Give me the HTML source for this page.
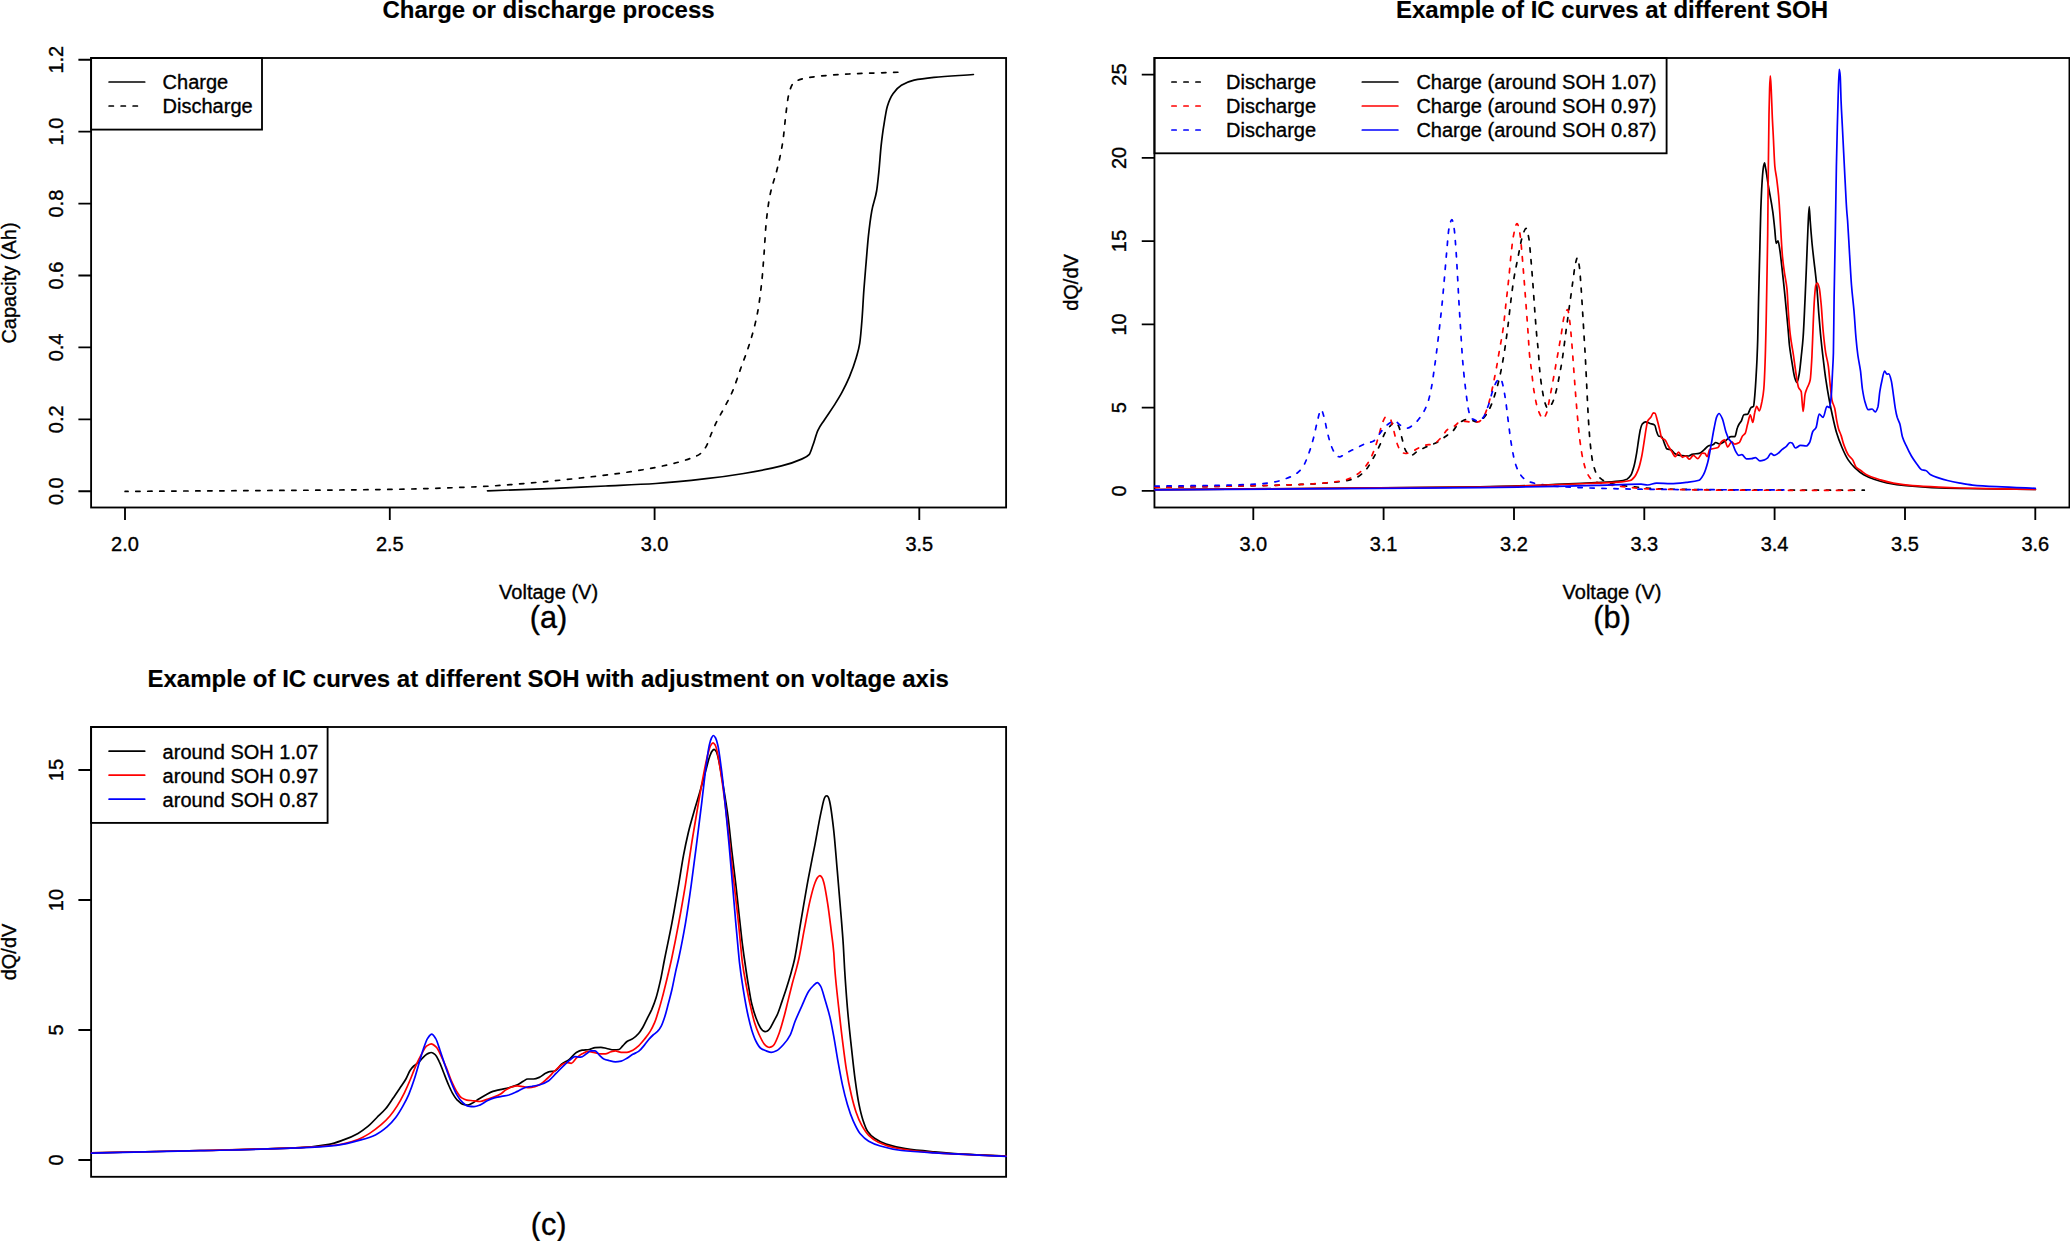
<!DOCTYPE html>
<html lang="en"><head><meta charset="utf-8"><title>IC curves</title>
<style>html,body{margin:0;padding:0;background:#fff}body{width:2070px;height:1241px;overflow:hidden}svg{display:block}text{font-family:"Liberation Sans",sans-serif;fill:#000;stroke:#000;stroke-width:.35px}.t{font-size:24px;font-weight:bold;text-anchor:middle;stroke-width:.15px}.n{font-size:20px}.m{font-size:20px;text-anchor:middle}.s{font-size:30.7px;text-anchor:middle}.l{fill:none;stroke-width:1.7;stroke-linejoin:round;stroke-linecap:round}.d{stroke-dasharray:4.3 7.7}.k{stroke:#000}.r{stroke:#f00}.b{stroke:#00f}.ax{fill:none;stroke:#000;stroke-width:1.85;stroke-linecap:square}.tk{stroke-linecap:butt}</style></head><body>
<svg width="2070" height="1241" viewBox="0 0 2070 1241">
<rect width="2070" height="1241" fill="#fff"/>
<g id="panel-a">
<text class="t" x="548.6" y="18.2">Charge or discharge process</text>
<rect class="ax" x="91.1" y="58.0" width="915.0" height="449.5"/>
<path class="ax tk" d="M125.0,507.5v12.6M389.8,507.5v12.6M654.6,507.5v12.6M919.3,507.5v12.6"/>
<text class="m" x="125.0" y="550.6">2.0</text>
<text class="m" x="389.8" y="550.6">2.5</text>
<text class="m" x="654.6" y="550.6">3.0</text>
<text class="m" x="919.3" y="550.6">3.5</text>
<path class="ax tk" d="M91.1,491.2h-12.7M91.1,419.3h-12.7M91.1,347.4h-12.7M91.1,275.5h-12.7M91.1,203.6h-12.7M91.1,131.6h-12.7M91.1,59.7h-12.7"/>
<text class="m" transform="translate(62.7,491.2) rotate(-90)">0.0</text>
<text class="m" transform="translate(62.7,419.3) rotate(-90)">0.2</text>
<text class="m" transform="translate(62.7,347.4) rotate(-90)">0.4</text>
<text class="m" transform="translate(62.7,275.5) rotate(-90)">0.6</text>
<text class="m" transform="translate(62.7,203.6) rotate(-90)">0.8</text>
<text class="m" transform="translate(62.7,131.6) rotate(-90)">1.0</text>
<text class="m" transform="translate(62.7,59.7) rotate(-90)">1.2</text>
<text class="m" transform="translate(15.5,283) rotate(-90)">Capacity (Ah)</text>
<text class="m" x="548.6" y="598.9">Voltage (V)</text>
<path class="l k" d="M487.5,490.8C510.1,490.0 532.8,489.2 555.4,488.3C572.1,487.6 588.9,486.8 605.6,486.0C622.4,485.2 639.1,484.6 655.9,483.5C672.6,482.4 689.4,480.6 706.1,478.7C718.7,477.3 731.2,475.6 743.8,473.5C756.4,471.4 768.9,469.2 781.5,465.9C788.2,464.2 794.9,462.1 801.6,459.1C804.1,458.0 806.6,457.2 809.1,454.6C810.4,453.3 811.6,448.7 812.9,445.3C814.6,440.8 816.2,433.8 817.9,430.3C820.0,425.9 822.1,423.5 824.2,420.2C827.6,415.0 830.9,410.4 834.3,405.1C836.8,401.1 839.3,397.2 841.8,392.6C844.3,388.0 846.8,383.1 849.3,377.2C851.6,371.6 854.0,365.5 856.3,357.5C857.4,353.6 858.6,350.3 859.7,343.4C860.4,338.9 861.2,329.9 861.9,320.8C862.6,312.5 863.2,299.0 863.9,289.8C864.7,279.3 865.4,270.7 866.2,261.6C866.9,252.9 867.7,243.0 868.4,236.2C869.5,225.8 870.7,216.9 871.8,210.8C873.4,202.2 875.0,200.3 876.6,191.0C877.4,186.5 878.1,178.8 878.9,171.3C879.6,164.1 880.4,152.6 881.1,145.9C882.0,137.9 882.8,131.8 883.7,126.2C884.9,118.5 886.1,110.3 887.3,106.4C889.2,100.2 891.1,96.4 893.0,93.7C895.8,89.7 898.6,87.0 901.4,85.3C905.6,82.8 909.9,81.1 914.1,80.2C920.7,78.8 927.3,78.1 933.9,77.4C947.1,76.1 960.2,75.5 973.4,74.5"/>
<path class="l k d" stroke-dashoffset="1.35" d="M125.1,491.4C166.7,491.1 208.4,490.9 250.0,490.6C296.6,490.3 343.1,490.1 389.7,489.4C420.6,489.0 451.6,487.9 482.5,486.5C498.4,485.8 514.4,484.3 530.3,483.0C547.0,481.6 563.8,479.9 580.5,478.0C597.3,476.1 614.0,474.2 630.8,471.7C643.3,469.8 655.9,467.6 668.4,464.7C675.1,463.2 681.8,461.4 688.5,459.1C692.3,457.8 696.0,456.6 699.8,454.1C701.9,452.7 704.0,450.0 706.1,446.6C707.8,443.8 709.5,438.0 711.2,434.0C712.9,430.1 714.5,426.1 716.2,422.7C719.1,416.7 722.1,412.1 725.0,406.4C727.5,401.6 730.0,397.1 732.5,391.3C735.2,385.0 737.9,376.4 740.6,368.8C743.9,359.5 747.2,351.7 750.5,340.6C752.9,332.7 755.2,324.9 757.6,312.3C759.0,304.9 760.4,294.5 761.8,281.3C762.6,274.1 763.3,263.4 764.1,253.1C764.7,244.6 765.4,231.5 766.0,224.9C767.2,212.0 768.5,203.1 769.7,196.7C772.2,183.5 774.8,179.3 777.3,168.5C779.2,160.4 781.1,152.9 783.0,140.3C783.9,134.1 784.9,122.3 785.8,114.9C786.7,107.5 787.7,98.8 788.6,95.1C790.0,89.5 791.4,85.3 792.8,83.9C795.6,81.0 798.5,79.9 801.3,79.1C807.9,77.4 814.4,76.7 821.0,76.0C830.4,75.1 839.8,74.5 849.2,74.0C867.9,73.1 886.5,72.7 905.2,72.0"/>
<rect class="ax" x="91.1" y="58.0" width="170.9" height="71.6" fill="#fff"/>
<path class="l k" d="M109.1,82h35.6"/>
<path class="l k d" d="M109.1,106h34"/>
<text class="n" x="162.6" y="89.1">Charge</text><text class="n" x="162.6" y="113.1">Discharge</text>
<text class="s" x="548.6" y="628.2">(a)</text>
</g>
<g id="panel-b">
<text class="t" x="1612" y="18.2">Example of IC curves at different SOH</text>
<rect class="ax" x="1154.45" y="58.0" width="915.0" height="449.5"/>
<path class="ax tk" d="M1253.3,507.5v12.6M1383.6,507.5v12.6M1514.0,507.5v12.6M1644.3,507.5v12.6M1774.6,507.5v12.6M1905.0,507.5v12.6M2035.3,507.5v12.6"/>
<text class="m" x="1253.3" y="550.6">3.0</text>
<text class="m" x="1383.6" y="550.6">3.1</text>
<text class="m" x="1514.0" y="550.6">3.2</text>
<text class="m" x="1644.3" y="550.6">3.3</text>
<text class="m" x="1774.6" y="550.6">3.4</text>
<text class="m" x="1905.0" y="550.6">3.5</text>
<text class="m" x="2035.3" y="550.6">3.6</text>
<path class="ax tk" d="M1154.45,490.9h-12.7M1154.45,407.6h-12.7M1154.45,324.4h-12.7M1154.45,241.1h-12.7M1154.45,157.9h-12.7M1154.45,74.6h-12.7"/>
<text class="m" transform="translate(1126.0,490.9) rotate(-90)">0</text>
<text class="m" transform="translate(1126.0,407.6) rotate(-90)">5</text>
<text class="m" transform="translate(1126.0,324.4) rotate(-90)">10</text>
<text class="m" transform="translate(1126.0,241.1) rotate(-90)">15</text>
<text class="m" transform="translate(1126.0,157.9) rotate(-90)">20</text>
<text class="m" transform="translate(1126.0,74.6) rotate(-90)">25</text>
<text class="m" transform="translate(1077.7,282.5) rotate(-90)">dQ/dV</text>
<text class="m" x="1612.0" y="598.9">Voltage (V)</text>
<path class="l k d" d="M1155.0,487.3C1187.2,486.8 1219.3,486.5 1251.5,485.8C1268.4,485.5 1285.3,485.1 1302.2,484.4C1310.6,484.1 1319.1,483.6 1327.5,482.9C1333.2,482.5 1338.8,481.9 1344.5,481.0C1348.4,480.4 1352.4,479.4 1356.3,477.7C1359.7,476.3 1363.0,473.0 1366.4,469.2C1368.7,466.6 1370.9,462.2 1373.2,458.2C1375.5,454.2 1377.7,449.6 1380.0,444.7C1381.7,441.1 1383.3,435.7 1385.0,432.9C1386.7,430.0 1388.4,427.8 1390.1,426.1C1391.8,424.4 1393.5,421.9 1395.2,421.9C1396.3,421.9 1397.5,424.0 1398.6,426.1C1399.7,428.1 1400.8,434.0 1401.9,437.9C1403.0,441.9 1404.2,447.8 1405.3,449.8C1407.0,452.9 1408.7,455.7 1410.4,455.7C1412.7,455.7 1414.9,452.8 1417.2,451.5C1420.6,449.6 1423.9,447.9 1427.3,446.4C1430.7,444.9 1434.0,444.0 1437.4,442.2C1440.2,440.7 1443.1,438.2 1445.9,436.2C1448.2,434.6 1450.4,433.3 1452.7,431.2C1454.9,429.1 1457.2,424.1 1459.4,422.7C1462.2,420.9 1465.1,419.3 1467.9,419.3C1471.3,419.3 1474.6,421.9 1478.0,421.9C1480.8,421.9 1483.7,417.9 1486.5,414.3C1488.2,412.1 1489.9,408.2 1491.6,404.1C1493.3,400.1 1494.9,394.7 1496.6,388.9C1497.7,385.0 1498.9,380.5 1500.0,375.4C1501.3,369.7 1502.5,362.9 1503.8,355.3C1505.1,347.7 1506.3,338.7 1507.6,328.9C1508.7,320.4 1509.8,309.2 1510.9,300.5C1512.0,292.1 1513.0,283.7 1514.1,277.3C1515.4,269.7 1516.6,264.4 1517.9,258.0C1519.2,251.5 1520.5,242.9 1521.8,238.7C1523.2,234.0 1524.7,228.4 1526.1,228.4C1527.0,228.4 1528.0,233.5 1528.9,238.7C1529.5,242.2 1530.2,251.0 1530.8,258.0C1531.5,265.4 1532.1,273.7 1532.8,282.5C1533.4,290.9 1534.1,301.0 1534.7,309.6C1535.3,318.2 1536.0,326.8 1536.6,334.1C1537.3,341.7 1537.9,346.1 1538.6,354.7C1538.8,357.7 1539.1,363.1 1539.3,365.8C1540.2,375.9 1541.0,382.3 1541.9,387.7C1543.0,394.3 1544.0,400.3 1545.1,403.2C1546.0,405.6 1546.8,408.3 1547.7,408.3C1549.2,408.3 1550.7,405.7 1552.2,403.2C1553.5,401.1 1554.7,396.3 1556.0,391.6C1557.1,387.5 1558.2,381.8 1559.3,376.1C1560.3,370.8 1561.4,365.2 1562.4,358.5C1563.7,350.1 1565.0,338.5 1566.3,328.9C1567.4,321.0 1568.4,313.4 1569.5,305.7C1570.6,298.0 1571.6,290.0 1572.7,282.5C1573.6,276.4 1574.4,268.3 1575.3,264.5C1576.0,261.5 1576.7,257.7 1577.4,257.7C1578.1,257.7 1578.7,262.5 1579.4,267.0C1580.0,270.9 1580.5,279.8 1581.1,287.7C1581.6,295.1 1582.2,304.7 1582.7,313.4C1583.2,321.0 1583.6,328.8 1584.1,336.6C1584.5,343.8 1585.0,350.5 1585.4,358.5C1585.9,368.4 1586.5,380.8 1587.0,391.6C1587.4,400.4 1587.9,410.2 1588.3,417.3C1588.9,427.6 1589.6,436.9 1590.2,443.1C1591.1,451.5 1591.9,458.6 1592.8,462.4C1594.1,468.1 1595.4,472.1 1596.7,474.1C1598.6,477.1 1600.6,478.8 1602.5,479.9C1606.8,482.3 1611.0,483.6 1615.3,484.4C1621.8,485.7 1628.2,486.3 1634.7,486.9C1643.3,487.7 1651.9,488.7 1660.5,488.9C1687.0,489.6 1713.5,489.8 1740.0,489.9C1781.4,490.1 1822.9,490.1 1864.3,490.2"/>
<path class="l r d" d="M1155.0,487.3C1187.2,486.8 1219.3,486.5 1251.5,485.8C1268.4,485.5 1285.3,485.1 1302.2,484.4C1310.6,484.1 1319.1,483.5 1327.5,482.7C1333.2,482.2 1338.8,481.5 1344.5,480.2C1347.9,479.4 1351.2,477.9 1354.6,476.0C1357.4,474.4 1360.3,472.1 1363.1,469.2C1365.3,466.9 1367.6,463.8 1369.8,459.9C1371.5,456.9 1373.2,452.7 1374.9,448.1C1376.3,444.3 1377.7,439.2 1379.1,434.5C1380.2,430.7 1381.4,425.3 1382.5,422.7C1383.6,420.1 1384.8,416.8 1385.9,416.8C1387.3,416.8 1388.7,417.5 1390.1,418.5C1391.2,419.3 1392.4,425.5 1393.5,429.5C1394.6,433.5 1395.8,439.9 1396.9,443.0C1398.3,446.8 1399.7,450.4 1401.1,451.5C1402.5,452.6 1403.9,453.5 1405.3,453.5C1408.1,453.5 1411.0,451.7 1413.8,450.6C1417.2,449.2 1420.5,446.3 1423.9,445.5C1427.3,444.6 1430.7,444.8 1434.1,443.8C1436.3,443.1 1438.6,440.2 1440.8,437.9C1443.1,435.6 1445.3,431.1 1447.6,429.5C1449.9,427.9 1452.1,427.5 1454.4,426.1C1456.6,424.8 1458.9,421.0 1461.1,421.0C1463.9,421.0 1466.8,421.9 1469.6,421.9C1472.4,421.9 1475.2,421.9 1478.0,421.9C1480.0,421.9 1482.0,418.9 1484.0,415.9C1485.7,413.4 1487.3,408.0 1489.0,402.4C1490.4,397.6 1491.9,390.5 1493.3,383.8C1494.4,378.6 1495.5,372.9 1496.6,366.9C1497.5,362.2 1498.3,356.8 1499.2,351.7C1500.5,344.1 1501.8,338.1 1503.1,328.9C1504.2,321.3 1505.2,310.0 1506.3,300.5C1507.2,292.8 1508.0,285.7 1508.9,277.3C1509.6,270.2 1510.4,260.7 1511.1,254.1C1511.9,247.2 1512.6,239.9 1513.4,236.1C1514.6,230.1 1515.8,223.5 1517.0,223.5C1518.0,223.5 1518.9,228.4 1519.9,233.5C1520.5,236.8 1521.2,244.8 1521.8,251.6C1522.4,258.4 1523.1,266.9 1523.7,274.8C1524.4,283.1 1525.0,291.7 1525.7,300.5C1526.3,308.9 1527.0,317.6 1527.6,326.3C1528.4,336.9 1529.1,351.4 1529.9,358.5C1530.2,361.6 1530.6,363.3 1530.9,365.8C1532.0,373.9 1533.0,385.3 1534.1,391.6C1535.4,399.3 1536.7,406.3 1538.0,409.6C1539.7,414.1 1541.5,418.6 1543.2,418.6C1544.3,418.6 1545.3,416.0 1546.4,413.5C1547.7,410.5 1548.9,401.7 1550.2,395.4C1551.5,388.9 1552.8,381.9 1554.1,374.8C1555.2,369.0 1556.2,362.8 1557.3,356.8C1558.6,349.7 1559.8,342.7 1561.1,335.3C1562.2,329.1 1563.2,319.1 1564.3,316.0C1565.4,312.8 1566.5,309.6 1567.6,309.6C1568.4,309.6 1569.1,316.8 1569.9,322.5C1570.5,327.0 1571.1,334.7 1571.7,341.8C1572.3,348.9 1572.9,357.7 1573.5,365.8C1574.1,374.3 1574.8,383.5 1575.4,391.6C1576.0,399.7 1576.7,407.8 1577.3,414.8C1578.2,424.3 1579.0,433.9 1579.9,440.5C1581.0,448.6 1582.0,455.3 1583.1,459.9C1584.4,465.5 1585.7,470.2 1587.0,472.8C1588.7,476.2 1590.4,478.8 1592.1,479.9C1595.6,482.0 1599.0,483.0 1602.5,483.7C1610.2,485.3 1618.0,486.1 1625.7,486.9C1633.0,487.7 1640.3,488.7 1647.6,488.9C1678.4,489.8 1709.2,490.1 1740.0,490.2C1778.2,490.3 1816.5,490.3 1854.7,490.3"/>
<path class="l b d" d="M1155.0,486.1C1170.2,485.9 1185.5,485.8 1200.7,485.6C1217.6,485.3 1234.6,485.1 1251.5,484.4C1259.4,484.1 1267.2,483.2 1275.1,481.9C1278.5,481.3 1281.9,480.0 1285.3,478.8C1288.7,477.6 1292.0,476.4 1295.4,474.3C1297.9,472.7 1300.5,470.3 1303.0,466.7C1305.0,463.9 1306.9,458.5 1308.9,453.1C1310.6,448.5 1312.3,442.7 1314.0,436.2C1315.1,431.8 1316.3,425.2 1317.4,421.0C1318.6,416.5 1319.9,409.5 1321.1,409.5C1322.1,409.5 1323.2,414.2 1324.2,417.6C1325.3,421.3 1326.4,428.6 1327.5,432.9C1328.9,438.5 1330.4,443.8 1331.8,447.2C1333.2,450.5 1334.6,453.5 1336.0,454.8C1337.1,455.8 1338.3,456.9 1339.4,456.9C1341.6,456.9 1343.9,454.3 1346.1,453.1C1349.5,451.3 1352.9,449.7 1356.3,448.1C1359.7,446.5 1363.0,444.5 1366.4,443.3C1368.7,442.5 1370.9,442.4 1373.2,441.3C1374.9,440.5 1376.6,437.5 1378.3,435.4C1380.3,433.0 1382.2,429.8 1384.2,427.8C1386.2,425.8 1388.1,423.9 1390.1,422.7C1391.5,421.9 1392.9,420.7 1394.3,420.7C1396.3,420.7 1398.3,424.1 1400.3,425.2C1402.5,426.4 1404.8,428.1 1407.0,428.1C1409.3,428.1 1411.5,426.1 1413.8,424.4C1416.0,422.8 1418.3,420.0 1420.5,416.8C1422.8,413.6 1425.0,410.1 1427.3,404.1C1428.7,400.4 1430.1,394.3 1431.5,387.2C1432.4,382.8 1433.2,376.3 1434.1,370.3C1434.9,364.5 1435.8,358.3 1436.6,351.7C1437.3,346.2 1438.0,340.1 1438.7,334.1C1439.8,324.9 1440.8,316.2 1441.9,305.7C1442.8,297.2 1443.6,287.1 1444.5,277.3C1445.2,269.0 1446.0,259.5 1446.7,251.6C1447.5,243.3 1448.2,232.1 1449.0,228.4C1450.0,223.8 1450.9,219.6 1451.9,219.6C1452.6,219.6 1453.4,224.0 1454.1,228.4C1454.8,232.4 1455.4,242.3 1456.1,251.6C1456.6,258.6 1457.1,268.4 1457.6,277.3C1458.1,285.6 1458.5,295.1 1459.0,303.1C1459.5,312.3 1460.1,320.4 1460.6,328.9C1461.2,338.9 1461.9,350.3 1462.5,358.5C1462.9,363.7 1463.3,368.0 1463.7,372.0C1464.5,380.3 1465.4,387.6 1466.2,394.0C1467.0,400.4 1467.9,407.5 1468.7,410.9C1469.6,414.4 1470.4,417.9 1471.3,418.5C1472.2,419.1 1473.1,419.1 1474.0,419.5C1475.3,420.1 1476.7,421.4 1478.0,421.4C1479.7,421.4 1481.4,419.5 1483.1,417.6C1484.8,415.7 1486.5,410.4 1488.2,405.8C1489.8,401.5 1491.3,394.6 1492.9,390.3C1494.2,386.8 1495.5,382.7 1496.8,381.2C1498.0,379.8 1499.2,378.4 1500.4,378.4C1501.3,378.4 1502.3,382.8 1503.2,386.4C1504.1,389.8 1504.9,396.0 1505.8,401.9C1506.7,407.8 1507.5,415.9 1508.4,422.5C1509.5,430.6 1510.5,439.6 1511.6,445.7C1512.9,453.0 1514.1,459.8 1515.4,463.7C1516.9,468.4 1518.5,471.9 1520.0,474.1C1522.1,477.1 1524.3,479.4 1526.4,480.5C1529.8,482.2 1533.3,483.1 1536.7,483.7C1543.6,485.0 1550.4,485.8 1557.3,486.3C1570.2,487.3 1583.1,487.8 1596.0,488.2C1613.2,488.7 1630.4,489.1 1647.6,489.3C1678.4,489.6 1709.2,489.7 1740.0,489.8C1754.6,489.8 1769.2,489.9 1783.8,489.9"/>
<path class="l k" d="M1155.0,489.6C1203.3,489.2 1251.7,488.9 1300.0,488.5C1360.0,488.0 1420.0,487.8 1480.0,486.9C1501.5,486.6 1523.0,485.8 1544.5,485.0C1561.7,484.4 1578.8,483.6 1596.0,482.7C1603.7,482.3 1611.5,482.1 1619.2,481.2C1621.8,480.9 1624.3,480.3 1626.9,479.2C1628.2,478.6 1629.5,477.2 1630.8,475.3C1631.9,473.7 1632.9,470.2 1634.0,466.3C1634.9,463.2 1635.7,458.4 1636.6,453.4C1637.2,449.7 1637.9,444.5 1638.5,440.5C1639.2,436.3 1639.8,431.3 1640.5,428.9C1641.1,426.6 1641.8,424.5 1642.4,423.8C1643.5,422.7 1644.5,421.9 1645.6,421.9C1647.1,421.9 1648.6,423.0 1650.1,423.5C1651.6,424.0 1653.2,424.0 1654.7,425.1C1655.3,425.5 1656.0,429.7 1656.6,431.5C1657.2,433.3 1657.9,435.7 1658.5,436.0C1659.6,436.5 1660.6,436.3 1661.7,436.7C1662.6,437.1 1663.4,441.1 1664.3,443.1C1665.2,445.1 1666.0,448.6 1666.9,448.9C1668.2,449.4 1669.5,449.2 1670.8,449.6C1672.1,450.0 1673.3,452.7 1674.6,453.4C1676.3,454.4 1678.1,455.2 1679.8,455.4C1682.8,455.8 1685.8,456.0 1688.8,456.0C1690.1,456.0 1691.4,454.3 1692.7,454.1C1694.8,453.7 1697.0,453.8 1699.1,453.4C1700.8,453.1 1702.6,451.0 1704.3,449.6C1705.6,448.5 1706.9,446.6 1708.2,446.0C1709.9,445.3 1711.6,445.4 1713.3,444.6C1714.1,444.2 1714.9,442.5 1715.7,442.5C1717.0,442.5 1718.2,443.9 1719.5,443.9C1721.6,443.9 1723.7,441.8 1725.8,440.5C1727.5,439.4 1729.2,436.7 1730.9,436.7C1732.2,436.7 1733.5,436.7 1734.8,436.7C1735.7,436.7 1736.5,429.9 1737.4,427.7C1738.0,426.1 1738.7,424.8 1739.3,423.8C1739.9,422.8 1740.6,422.3 1741.2,421.2C1742.1,419.7 1742.9,415.1 1743.8,414.8C1745.1,414.3 1746.4,414.5 1747.7,414.1C1748.8,413.7 1749.8,408.5 1750.9,407.7C1751.8,407.0 1752.6,407.3 1753.5,406.4C1753.9,405.9 1754.4,400.1 1754.8,395.4C1755.2,390.7 1755.7,383.3 1756.1,376.1C1756.4,371.1 1756.7,366.0 1757.0,359.3C1757.2,354.1 1757.5,348.0 1757.7,340.0C1758.0,329.7 1758.3,311.0 1758.6,298.1C1759.0,279.5 1759.5,264.0 1759.9,246.6C1760.2,234.6 1760.5,218.8 1760.8,210.0C1761.2,199.3 1761.5,191.3 1761.9,185.3C1762.3,178.2 1762.8,171.5 1763.2,168.6C1763.6,165.7 1764.1,162.8 1764.5,162.8C1764.9,162.8 1765.3,166.4 1765.7,168.6C1766.6,173.3 1767.4,180.0 1768.3,185.3C1769.8,194.6 1771.3,200.8 1772.8,211.8C1773.5,216.7 1774.1,223.3 1774.8,229.8C1775.2,234.0 1775.7,243.3 1776.1,243.3C1776.7,243.3 1777.4,240.8 1778.0,240.8C1778.6,240.8 1779.3,246.4 1779.9,250.4C1780.6,254.6 1781.2,261.3 1781.9,267.2C1782.7,274.5 1783.6,282.2 1784.4,290.4C1785.1,296.9 1785.7,304.0 1786.4,311.0C1787.0,317.7 1787.7,324.3 1788.3,331.6C1788.7,335.8 1789.0,341.7 1789.4,345.0C1790.1,351.3 1790.8,354.9 1791.5,359.3C1792.6,365.9 1793.6,374.0 1794.7,377.4C1795.4,379.8 1796.2,382.5 1796.9,382.5C1797.7,382.5 1798.5,377.8 1799.3,373.5C1799.9,370.1 1800.6,363.0 1801.2,357.0C1801.8,351.0 1802.5,346.0 1803.1,337.5C1803.8,328.5 1804.4,312.6 1805.1,298.1C1805.6,286.5 1806.2,272.6 1806.7,259.5C1807.1,248.9 1807.6,236.0 1808.0,227.2C1808.4,219.1 1808.8,206.6 1809.2,206.6C1809.5,206.6 1809.9,216.4 1810.2,220.8C1810.8,229.2 1811.5,237.4 1812.1,244.0C1813.0,253.0 1813.8,259.4 1814.7,267.2C1815.4,273.2 1816.0,278.0 1816.7,285.2C1817.3,292.1 1818.0,302.9 1818.6,311.0C1819.2,319.1 1819.9,327.3 1820.5,334.0C1821.4,343.1 1822.2,350.6 1823.1,358.0C1824.0,365.4 1824.8,372.7 1825.7,378.7C1826.8,386.1 1827.8,392.2 1828.9,398.0C1830.2,405.1 1831.5,411.5 1832.8,417.3C1834.1,423.0 1835.3,428.6 1836.6,432.8C1838.3,438.5 1840.1,443.0 1841.8,447.0C1843.9,452.0 1846.1,456.7 1848.2,459.9C1850.4,463.1 1852.5,465.5 1854.7,467.6C1857.7,470.5 1860.7,473.0 1863.7,474.7C1867.1,476.6 1870.6,478.0 1874.0,479.2C1878.3,480.7 1882.6,481.9 1886.9,482.8C1893.3,484.1 1899.8,485.1 1906.2,485.7C1914.8,486.6 1923.4,487.2 1932.0,487.6C1941.3,488.0 1950.7,488.3 1960.0,488.5C1972.2,488.7 1984.5,488.8 1996.7,489.0C2009.6,489.2 2022.5,489.3 2035.4,489.5"/>
<path class="l r" d="M1155.0,489.7C1203.3,489.3 1251.7,489.0 1300.0,488.6C1360.0,488.1 1420.0,487.9 1480.0,487.0C1518.7,486.4 1557.3,484.7 1596.0,483.1C1604.6,482.7 1613.2,482.5 1621.8,481.8C1624.6,481.6 1627.4,481.3 1630.2,480.5C1631.7,480.1 1633.2,478.4 1634.7,476.6C1636.0,475.0 1637.2,472.3 1638.5,468.9C1639.6,465.9 1640.7,461.3 1641.8,456.0C1642.6,452.0 1643.5,445.8 1644.3,440.5C1645.0,436.3 1645.6,431.4 1646.3,427.7C1646.7,425.3 1647.2,422.1 1647.6,421.2C1648.7,418.9 1649.7,418.8 1650.8,417.3C1651.7,416.1 1652.5,412.8 1653.4,412.8C1653.9,412.8 1654.5,413.0 1655.0,413.2C1655.7,413.5 1656.5,417.4 1657.2,419.9C1658.1,422.9 1658.9,426.7 1659.8,430.2C1660.4,432.8 1661.1,437.3 1661.7,438.0C1662.8,439.2 1663.9,438.9 1665.0,439.9C1666.1,440.8 1667.1,443.9 1668.2,445.7C1669.5,447.9 1670.8,450.1 1672.1,452.1C1673.2,453.7 1674.2,456.7 1675.3,456.7C1676.4,456.7 1677.4,452.1 1678.5,452.1C1679.8,452.1 1681.1,457.3 1682.4,457.3C1683.5,457.3 1684.5,456.0 1685.6,456.0C1686.9,456.0 1688.2,459.2 1689.5,459.2C1690.8,459.2 1692.0,455.4 1693.3,455.4C1694.8,455.4 1696.3,458.6 1697.8,458.6C1699.3,458.6 1700.9,453.2 1702.4,453.2C1703.2,453.2 1704.1,453.3 1704.9,453.4C1705.7,453.5 1706.5,456.7 1707.3,456.7C1708.1,456.7 1708.8,450.0 1709.6,449.6C1712.4,448.1 1715.2,448.9 1718.0,447.6C1719.1,447.1 1720.2,442.8 1721.3,441.8C1722.4,440.9 1723.4,439.9 1724.5,439.9C1725.6,439.9 1726.6,447.0 1727.7,447.0C1729.0,447.0 1730.3,441.8 1731.6,441.8C1732.7,441.8 1733.7,444.1 1734.8,444.1C1736.3,444.1 1737.8,443.4 1739.3,442.5C1740.4,441.8 1741.4,437.4 1742.5,436.0C1743.4,434.9 1744.2,434.8 1745.1,433.5C1746.0,432.2 1746.8,426.9 1747.7,423.8C1748.6,420.7 1749.4,414.8 1750.3,414.8C1751.1,414.8 1752.0,422.5 1752.8,422.5C1753.5,422.5 1754.1,414.7 1754.8,412.2C1755.4,409.8 1756.1,406.4 1756.7,406.4C1757.6,406.4 1758.4,410.9 1759.3,410.9C1760.2,410.9 1761.0,405.9 1761.9,401.9C1762.5,398.9 1763.2,395.7 1763.8,389.0C1764.2,384.4 1764.7,373.8 1765.1,362.0C1765.5,352.1 1765.8,336.8 1766.2,320.0C1766.5,307.7 1766.7,290.4 1767.0,275.0C1767.2,261.6 1767.5,251.5 1767.7,233.7C1767.9,218.4 1768.1,188.2 1768.3,170.0C1768.5,148.7 1768.8,127.4 1769.0,114.5C1769.2,103.4 1769.4,93.9 1769.6,88.7C1769.8,82.6 1770.1,75.8 1770.3,75.8C1770.6,75.8 1770.9,83.2 1771.2,88.7C1771.5,94.8 1771.9,107.0 1772.2,114.5C1772.6,124.3 1773.1,131.6 1773.5,140.2C1773.9,148.8 1774.4,161.5 1774.8,166.0C1775.4,172.6 1776.1,174.0 1776.7,178.9C1777.3,183.8 1778.0,188.7 1778.6,195.7C1779.0,200.5 1779.5,207.4 1779.9,214.3C1780.3,221.2 1780.8,230.5 1781.2,237.5C1781.6,244.5 1782.1,252.3 1782.5,256.9C1783.1,263.7 1783.8,267.7 1784.4,272.3C1785.3,278.6 1786.1,280.6 1787.0,289.1C1787.4,293.4 1787.9,304.8 1788.3,311.0C1788.9,320.1 1789.6,328.7 1790.2,334.2C1791.3,343.8 1792.4,348.0 1793.5,355.5C1794.3,361.2 1795.2,368.3 1796.0,373.5C1796.9,378.9 1797.7,385.7 1798.6,387.7C1799.5,389.7 1800.3,389.2 1801.2,391.6C1801.8,393.3 1802.5,411.5 1803.1,411.5C1803.8,411.5 1804.4,397.1 1805.1,394.1C1805.7,391.2 1806.4,390.1 1807.0,388.3C1808.1,385.3 1809.1,385.0 1810.2,380.0C1810.8,377.3 1811.3,367.2 1811.9,357.0C1812.3,349.2 1812.8,333.6 1813.2,323.9C1813.6,314.2 1814.1,303.8 1814.5,298.1C1814.9,292.4 1815.4,286.3 1815.8,285.2C1816.3,283.9 1816.8,283.0 1817.3,283.0C1817.9,283.0 1818.6,285.4 1819.2,287.8C1819.9,290.4 1820.5,297.7 1821.2,304.6C1821.8,311.2 1822.5,323.6 1823.1,330.4C1824.0,339.7 1824.8,347.4 1825.7,352.9C1826.6,358.4 1827.4,359.9 1828.3,365.8C1828.9,370.1 1829.6,379.4 1830.2,385.1C1830.8,390.8 1831.5,397.8 1832.1,400.6C1833.0,404.5 1833.8,404.8 1834.7,408.3C1835.3,410.9 1836.0,416.6 1836.6,419.9C1837.3,423.4 1837.9,426.7 1838.6,428.9C1839.4,431.7 1840.3,432.9 1841.1,435.4C1842.0,438.0 1842.8,442.0 1843.7,444.4C1845.2,448.6 1846.7,452.4 1848.2,454.7C1849.7,457.0 1851.2,457.6 1852.7,459.9C1853.8,461.6 1854.9,465.7 1856.0,467.0C1857.7,468.9 1859.4,469.6 1861.1,470.8C1863.3,472.4 1865.4,474.2 1867.6,475.3C1871.9,477.4 1876.2,478.6 1880.5,479.9C1884.8,481.2 1889.0,482.3 1893.3,483.1C1899.8,484.3 1906.2,485.2 1912.7,485.7C1921.3,486.4 1929.9,486.8 1938.5,487.2C1945.7,487.5 1952.8,487.8 1960.0,488.0C1972.2,488.3 1984.5,488.6 1996.7,488.8C2009.6,489.1 2022.5,489.3 2035.4,489.5"/>
<path class="l b" d="M1155.0,489.8C1203.3,489.5 1251.7,489.2 1300.0,488.9C1360.0,488.5 1420.0,488.2 1480.0,487.6C1505.8,487.3 1531.5,486.8 1557.3,486.3C1570.2,486.0 1583.1,485.7 1596.0,485.4C1611.0,485.0 1626.1,484.1 1641.1,484.1C1643.3,484.1 1645.4,485.0 1647.6,485.0C1650.6,485.0 1653.6,483.1 1656.6,483.1C1661.3,483.1 1666.1,483.7 1670.8,483.7C1675.9,483.7 1681.1,483.0 1686.2,482.4C1690.5,481.9 1694.8,481.7 1699.1,480.2C1700.6,479.7 1702.0,477.2 1703.5,474.6C1704.9,472.1 1706.3,467.7 1707.7,462.5C1708.8,458.4 1709.9,451.6 1711.0,445.7C1712.1,440.0 1713.1,432.8 1714.2,427.7C1715.1,423.5 1715.9,418.6 1716.8,416.7C1717.5,415.1 1718.3,413.5 1719.0,413.5C1720.1,413.5 1721.3,416.3 1722.4,418.8C1723.5,421.3 1724.7,428.2 1725.8,431.5C1726.9,434.6 1727.9,437.6 1729.0,439.3C1730.1,441.0 1731.1,441.4 1732.2,443.1C1733.3,444.8 1734.3,449.0 1735.4,450.9C1736.5,452.8 1737.6,455.4 1738.7,455.4C1739.8,455.4 1740.8,454.7 1741.9,454.7C1743.4,454.7 1744.9,458.8 1746.4,458.8C1748.1,458.8 1749.9,458.7 1751.6,458.6C1752.9,458.5 1754.1,457.6 1755.4,457.6C1756.9,457.6 1758.4,460.9 1759.9,460.9C1761.4,460.9 1763.0,460.4 1764.5,459.9C1765.6,459.5 1766.6,458.8 1767.7,457.9C1768.8,457.0 1769.8,453.4 1770.9,453.4C1772.0,453.4 1773.0,455.4 1774.1,455.4C1775.4,455.4 1776.7,454.3 1778.0,453.4C1779.3,452.5 1780.6,450.7 1781.9,449.6C1783.4,448.3 1784.9,447.6 1786.4,446.3C1787.7,445.2 1788.9,442.5 1790.2,442.5C1790.9,442.5 1791.5,442.8 1792.2,443.1C1793.3,443.6 1794.3,448.0 1795.4,448.0C1797.1,448.0 1798.8,445.4 1800.5,445.4C1802.4,445.4 1804.4,446.0 1806.3,446.0C1807.4,446.0 1808.5,444.3 1809.6,442.5C1810.7,440.8 1811.7,433.4 1812.8,431.5C1813.9,429.6 1814.9,429.7 1816.0,427.7C1817.1,425.7 1818.1,414.1 1819.2,414.1C1820.5,414.1 1821.8,417.3 1823.1,417.3C1824.4,417.3 1825.7,406.4 1827.0,406.4C1827.8,406.4 1828.7,407.7 1829.5,407.7C1830.1,407.7 1830.6,402.3 1831.2,396.7C1831.6,392.4 1832.1,380.9 1832.5,372.2C1832.8,366.2 1833.1,363.2 1833.4,352.9C1833.6,344.9 1833.9,313.2 1834.1,298.1C1834.5,272.2 1834.9,256.7 1835.3,233.7C1835.7,212.7 1836.0,184.5 1836.4,166.0C1836.7,150.9 1837.0,139.0 1837.3,127.3C1837.6,115.6 1837.9,104.1 1838.2,95.1C1838.5,85.1 1838.9,69.3 1839.2,69.3C1839.5,69.3 1839.9,72.2 1840.2,75.8C1840.5,79.0 1840.8,94.5 1841.1,101.6C1841.5,111.9 1842.0,118.7 1842.4,127.3C1842.8,135.9 1843.3,144.5 1843.7,153.1C1844.1,161.7 1844.6,170.6 1845.0,178.9C1845.6,189.7 1846.1,202.0 1846.7,210.0C1847.0,214.3 1847.3,216.7 1847.6,220.8C1848.2,229.5 1848.9,242.5 1849.5,253.0C1850.2,264.0 1850.8,276.7 1851.5,285.2C1852.3,295.8 1853.2,301.2 1854.0,311.0C1854.7,318.8 1855.3,330.7 1856.0,338.0C1856.6,344.9 1857.3,350.9 1857.9,355.5C1858.8,361.8 1859.6,364.5 1860.5,370.9C1861.1,375.6 1861.8,384.8 1862.4,389.0C1863.3,394.7 1864.1,399.1 1865.0,401.9C1866.1,405.4 1867.1,409.6 1868.2,409.6C1869.5,409.6 1870.8,409.0 1872.1,409.0C1873.2,409.0 1874.2,411.9 1875.3,411.9C1876.2,411.9 1877.0,409.7 1877.9,407.0C1878.5,405.0 1879.2,395.6 1879.8,391.6C1880.5,387.4 1881.1,384.1 1881.8,381.2C1882.7,377.2 1883.7,371.2 1884.6,371.2C1885.4,371.2 1886.1,374.2 1886.9,374.2C1887.5,374.2 1888.2,373.8 1888.8,373.8C1889.7,373.8 1890.5,377.6 1891.4,381.2C1892.0,383.8 1892.7,389.7 1893.3,394.1C1894.0,398.7 1894.6,404.5 1895.3,408.3C1895.9,411.9 1896.6,415.2 1897.2,417.3C1898.1,420.2 1898.9,420.9 1899.8,423.8C1900.7,426.7 1901.5,433.9 1902.4,436.7C1903.7,440.9 1904.9,443.0 1906.2,445.7C1907.9,449.5 1909.7,453.1 1911.4,456.0C1913.1,458.9 1914.9,461.4 1916.6,463.7C1918.3,465.9 1920.0,469.3 1921.7,469.8C1923.0,470.2 1924.4,470.1 1925.7,470.5C1927.4,471.0 1929.0,473.9 1930.7,474.8C1933.3,476.3 1935.9,477.0 1938.5,477.9C1941.5,478.9 1944.5,479.8 1947.5,480.5C1951.7,481.5 1955.8,482.3 1960.0,483.1C1964.2,483.9 1968.3,484.7 1972.5,485.1C1980.6,485.9 1988.6,486.3 1996.7,486.7C2009.6,487.4 2022.5,487.8 2035.4,488.3"/>
<rect class="ax" x="1154.45" y="58.0" width="512.15" height="95.3" fill="#fff"/>
<path class="l k d" d="M1171.9,82.0h34"/><path class="l k" d="M1362.3,82.0h35.6"/>
<text class="n" x="1226" y="89.1">Discharge</text><text class="n" x="1416.4" y="89.1">Charge (around SOH 1.07)</text>
<path class="l r d" d="M1171.9,106.0h34"/><path class="l r" d="M1362.3,106.0h35.6"/>
<text class="n" x="1226" y="113.1">Discharge</text><text class="n" x="1416.4" y="113.1">Charge (around SOH 0.97)</text>
<path class="l b d" d="M1171.9,130.0h34"/><path class="l b" d="M1362.3,130.0h35.6"/>
<text class="n" x="1226" y="137.1">Discharge</text><text class="n" x="1416.4" y="137.1">Charge (around SOH 0.87)</text>
<text class="s" x="1612" y="628.2">(b)</text>
</g>
<g id="panel-c">
<text class="t" x="548.2" y="687">Example of IC curves at different SOH with adjustment on voltage axis</text>
<rect class="ax" x="91.1" y="727.0" width="915.0" height="449.8"/>
<path class="ax tk" d="M91.1,1160.0h-12.7M91.1,1030.0h-12.7M91.1,900.0h-12.7M91.1,770.0h-12.7"/>
<text class="m" transform="translate(62.7,1160.0) rotate(-90)">0</text>
<text class="m" transform="translate(62.7,1030.0) rotate(-90)">5</text>
<text class="m" transform="translate(62.7,900.0) rotate(-90)">10</text>
<text class="m" transform="translate(62.7,770.0) rotate(-90)">15</text>
<text class="m" transform="translate(15.6,952) rotate(-90)">dQ/dV</text>
<path class="l k" d="M91.2,1152.9C127.5,1152.1 163.7,1151.4 200.0,1150.5C233.3,1149.7 266.7,1149.3 300.0,1147.6C309.7,1147.1 319.3,1146.0 329.0,1144.3C333.8,1143.5 338.7,1141.6 343.5,1139.9C348.3,1138.2 353.2,1136.1 358.0,1133.4C361.4,1131.5 364.8,1129.0 368.2,1126.2C371.1,1123.8 374.0,1120.4 376.9,1117.5C379.8,1114.6 382.7,1112.2 385.6,1108.8C388.0,1106.0 390.4,1102.1 392.8,1098.6C395.2,1095.1 397.7,1091.3 400.1,1087.7C402.0,1084.8 404.0,1082.4 405.9,1079.0C407.3,1076.5 408.8,1072.4 410.2,1070.3C411.4,1068.5 412.6,1067.1 413.8,1066.0C415.5,1064.4 417.2,1063.6 418.9,1062.1C420.8,1060.4 422.8,1057.4 424.7,1055.8C425.9,1054.8 427.1,1053.9 428.3,1053.4C429.3,1053.0 430.2,1052.5 431.2,1052.5C432.4,1052.5 433.7,1053.4 434.9,1054.4C436.3,1055.5 437.8,1058.7 439.2,1061.6C440.7,1064.5 442.1,1068.8 443.6,1072.5C445.0,1076.1 446.5,1080.1 447.9,1083.4C449.4,1086.8 450.8,1090.2 452.3,1092.8C454.0,1095.7 455.6,1098.4 457.3,1100.1C459.0,1101.8 460.7,1103.6 462.4,1104.1C464.1,1104.6 465.8,1105.1 467.5,1105.1C469.2,1105.1 470.9,1103.8 472.6,1103.0C474.5,1102.0 476.5,1100.5 478.4,1099.3C480.8,1097.8 483.2,1096.3 485.6,1095.0C488.0,1093.7 490.5,1092.2 492.9,1091.4C495.3,1090.6 497.7,1090.2 500.1,1089.6C503.0,1088.9 505.9,1088.5 508.8,1087.7C511.7,1086.9 514.6,1086.1 517.5,1084.8C519.4,1083.9 521.4,1082.3 523.3,1081.2C524.8,1080.4 526.2,1079.0 527.7,1079.0C529.6,1079.0 531.6,1079.0 533.5,1079.0C535.4,1079.0 537.4,1078.2 539.3,1077.4C541.2,1076.6 543.2,1074.6 545.1,1073.6C546.5,1072.9 548.0,1071.9 549.4,1071.7C551.1,1071.4 552.8,1071.5 554.5,1071.2C556.9,1070.8 559.4,1065.8 561.8,1064.0C564.2,1062.2 566.6,1061.4 569.0,1059.6C571.4,1057.8 573.9,1053.7 576.3,1052.4C578.2,1051.4 580.2,1050.5 582.1,1050.2C584.5,1049.8 586.9,1049.9 589.3,1049.5C591.2,1049.2 593.2,1047.8 595.1,1047.6C597.0,1047.4 599.0,1047.3 600.9,1047.3C602.8,1047.3 604.8,1048.1 606.7,1048.5C609.1,1049.0 611.6,1049.9 614.0,1049.9C615.7,1049.9 617.3,1049.8 619.0,1049.5C620.2,1049.3 621.5,1047.1 622.7,1045.9C624.1,1044.5 625.6,1042.5 627.0,1041.5C628.9,1040.2 630.9,1039.8 632.8,1038.6C634.7,1037.4 636.7,1035.7 638.6,1033.5C640.1,1031.9 641.5,1029.5 643.0,1027.0C644.4,1024.6 645.9,1021.2 647.3,1018.3C648.8,1015.4 650.2,1012.9 651.7,1009.6C653.1,1006.3 654.6,1002.6 656.0,998.0C657.5,993.3 658.9,987.2 660.4,980.6C661.8,974.5 663.1,966.4 664.5,959.5C667.0,947.1 669.4,936.1 671.9,923.1C674.2,911.1 676.4,897.7 678.7,884.4C680.3,875.0 681.9,863.9 683.5,855.4C685.1,846.7 686.8,839.0 688.4,832.2C690.3,824.2 692.3,817.7 694.2,810.9C696.1,804.1 698.1,798.4 700.0,791.6C701.9,784.8 703.9,777.3 705.8,770.3C707.1,765.7 708.3,760.3 709.6,756.8C710.4,754.7 711.1,752.4 711.9,751.4C712.6,750.4 713.4,749.4 714.1,749.4C714.8,749.4 715.6,750.5 716.3,751.6C717.0,752.7 717.7,755.8 718.4,758.7C720.0,765.3 721.6,776.2 723.2,785.8C724.8,795.4 726.4,804.7 728.0,816.7C729.3,826.5 730.6,840.3 731.9,851.6C733.2,862.9 734.5,873.0 735.8,884.4C737.1,895.5 738.3,907.9 739.6,919.3C740.6,928.0 741.5,937.3 742.5,945.0C743.2,950.3 743.8,954.9 744.5,959.5C745.7,967.9 746.9,976.2 748.1,983.5C749.3,990.8 750.5,998.8 751.7,1003.8C753.2,1010.0 754.6,1014.4 756.1,1018.3C757.5,1022.1 759.0,1025.5 760.4,1027.7C761.2,1028.9 762.0,1030.1 762.8,1030.6C763.6,1031.1 764.3,1031.6 765.1,1031.6C765.9,1031.6 766.6,1031.3 767.4,1030.9C768.1,1030.6 768.8,1029.8 769.5,1029.0C770.8,1027.5 772.2,1024.4 773.5,1021.9C774.9,1019.2 776.4,1016.8 777.8,1013.5C779.3,1010.1 780.7,1005.2 782.2,1000.9C783.6,996.7 785.1,992.4 786.5,987.9C788.0,983.3 789.4,978.6 790.9,973.4C792.1,969.1 793.3,965.0 794.5,959.5C796.5,950.1 798.6,935.0 800.6,923.1C803.2,908.0 805.7,892.5 808.3,878.6C810.6,866.3 812.8,855.6 815.1,843.8C817.0,833.7 819.0,821.6 820.9,812.9C822.2,807.0 823.5,799.4 824.8,797.4C825.2,796.8 825.6,796.3 826.0,796.1C826.4,795.9 826.7,795.8 827.1,795.8C827.5,795.8 827.9,796.5 828.3,797.2C828.7,797.9 829.2,799.5 829.6,801.3C830.9,806.6 832.2,817.2 833.5,828.3C834.8,839.2 836.0,856.3 837.3,870.9C838.6,885.9 839.9,901.0 841.2,917.3C841.9,926.1 842.6,934.1 843.3,945.0C843.7,951.8 844.2,962.0 844.6,969.0C845.5,984.0 846.5,996.8 847.4,1007.7C848.7,1022.9 850.0,1034.4 851.3,1046.4C852.6,1058.1 853.8,1069.9 855.1,1079.3C856.4,1088.9 857.7,1098.0 859.0,1104.4C860.3,1110.8 861.6,1116.0 862.9,1119.9C864.5,1124.7 866.1,1129.2 867.7,1131.5C870.0,1134.8 872.2,1136.7 874.5,1138.3C878.4,1141.0 882.2,1142.8 886.1,1144.1C892.5,1146.2 899.0,1147.6 905.4,1148.6C915.1,1150.1 924.7,1150.9 934.4,1151.8C944.1,1152.7 953.8,1153.6 963.5,1154.2C977.7,1155.0 991.8,1155.5 1006.0,1156.1"/>
<path class="l r" d="M91.2,1152.9C127.5,1152.1 163.7,1151.4 200.0,1150.5C233.3,1149.7 266.7,1149.1 300.0,1147.6C312.1,1147.1 324.2,1146.4 336.3,1145.0C343.5,1144.2 350.8,1142.1 358.0,1139.5C361.9,1138.1 365.7,1135.8 369.6,1133.4C373.5,1131.0 377.3,1128.0 381.2,1124.7C384.1,1122.2 387.0,1119.4 389.9,1116.0C392.3,1113.2 394.8,1109.7 397.2,1105.9C399.6,1102.1 402.0,1097.6 404.4,1092.8C406.3,1088.9 408.3,1084.4 410.2,1079.8C412.1,1075.2 414.1,1069.6 416.0,1065.3C417.9,1061.0 419.9,1057.2 421.8,1053.7C423.3,1051.1 424.7,1047.6 426.2,1046.4C427.9,1045.1 429.5,1043.8 431.2,1043.8C432.9,1043.8 434.6,1045.5 436.3,1047.1C438.0,1048.7 439.7,1053.1 441.4,1056.6C443.1,1060.1 444.8,1064.1 446.5,1068.2C448.2,1072.2 449.8,1077.4 451.5,1081.2C453.2,1085.0 454.9,1088.8 456.6,1091.4C458.3,1094.0 460.0,1096.8 461.7,1097.9C463.4,1099.0 465.1,1099.8 466.8,1100.1C469.2,1100.5 471.6,1100.5 474.0,1100.8C475.9,1101.0 477.9,1101.5 479.8,1101.5C482.2,1101.5 484.7,1100.1 487.1,1099.3C489.5,1098.5 491.9,1097.8 494.3,1096.9C496.2,1096.2 498.2,1095.4 500.1,1094.3C502.0,1093.2 504.0,1091.1 505.9,1089.9C507.8,1088.7 509.8,1087.6 511.7,1087.0C513.6,1086.4 515.6,1085.8 517.5,1085.8C519.4,1085.8 521.4,1086.4 523.3,1086.7C525.2,1087.0 527.2,1087.7 529.1,1087.7C531.0,1087.7 533.0,1087.2 534.9,1086.7C536.8,1086.2 538.8,1085.2 540.7,1084.1C542.9,1082.8 545.1,1080.5 547.3,1078.5C549.7,1076.3 552.1,1073.5 554.5,1071.2C556.9,1068.9 559.4,1066.1 561.8,1064.7C563.5,1063.7 565.1,1062.5 566.8,1062.5C568.3,1062.5 569.7,1063.3 571.2,1063.3C572.9,1063.3 574.6,1059.7 576.3,1058.2C578.2,1056.5 580.2,1054.8 582.1,1053.8C584.0,1052.8 586.0,1051.4 587.9,1051.4C589.8,1051.4 591.8,1052.0 593.7,1052.4C595.6,1052.8 597.6,1053.8 599.5,1053.8C601.4,1053.8 603.4,1053.8 605.3,1053.8C607.2,1053.8 609.2,1052.2 611.1,1051.7C612.5,1051.4 614.0,1050.9 615.4,1050.9C617.3,1050.9 619.3,1052.4 621.2,1052.4C623.1,1052.4 625.1,1052.4 627.0,1052.4C628.9,1052.4 630.9,1051.2 632.8,1050.2C634.7,1049.2 636.7,1047.6 638.6,1045.9C640.5,1044.2 642.5,1041.7 644.4,1039.3C646.3,1036.9 648.3,1034.5 650.2,1031.4C651.7,1029.0 653.1,1026.2 654.6,1022.7C656.0,1019.3 657.5,1014.3 658.9,1009.6C660.4,1004.8 661.8,999.3 663.3,993.7C664.7,988.2 666.2,982.3 667.6,976.3C669.0,970.6 670.3,964.8 671.7,958.5C674.0,947.7 676.4,935.6 678.7,923.1C681.0,911.0 683.2,898.3 685.5,884.4C687.4,872.5 689.4,858.0 691.3,845.8C693.2,833.6 695.2,822.2 697.1,810.9C699.0,799.6 701.0,788.1 702.9,778.0C704.5,769.7 706.1,760.8 707.7,754.8C708.7,751.2 709.6,747.2 710.6,745.6C711.4,744.2 712.3,742.8 713.1,742.8C713.9,742.8 714.6,744.1 715.4,745.4C716.1,746.6 716.7,749.9 717.4,752.9C719.0,760.1 720.6,771.0 722.2,781.9C723.8,793.1 725.5,806.7 727.1,820.6C728.4,831.4 729.6,844.0 730.9,855.4C732.2,867.2 733.5,878.6 734.8,890.2C736.1,901.8 737.4,912.4 738.7,925.1C739.3,931.3 740.0,938.6 740.6,945.0C741.2,950.8 741.7,957.4 742.3,961.8C743.5,971.1 744.7,977.0 745.9,983.5C747.4,991.5 748.8,998.8 750.3,1005.3C751.7,1011.7 753.2,1018.1 754.6,1022.7C756.1,1027.4 757.5,1031.1 759.0,1034.3C760.7,1038.0 762.3,1041.6 764.0,1043.7C764.9,1044.9 765.9,1045.9 766.8,1046.4C767.7,1046.8 768.5,1047.3 769.4,1047.3C770.3,1047.3 771.1,1046.9 772.0,1046.5C772.7,1046.2 773.5,1045.3 774.2,1044.4C775.9,1042.2 777.6,1037.4 779.3,1032.8C780.7,1028.9 782.2,1023.5 783.6,1018.3C785.1,1013.0 786.5,1006.8 788.0,1000.9C789.4,995.2 790.9,989.0 792.3,983.5C793.8,977.9 795.2,973.3 796.7,967.6C797.4,964.9 798.1,962.2 798.8,959.0C800.7,950.5 802.5,938.6 804.4,928.9C806.3,918.9 808.3,907.9 810.2,899.9C811.8,893.1 813.5,886.6 815.1,882.5C815.9,880.4 816.8,878.3 817.6,877.4C818.4,876.6 819.1,875.7 819.9,875.7C820.6,875.7 821.3,876.6 822.0,877.6C822.6,878.4 823.2,880.4 823.8,882.5C825.1,887.0 826.4,895.5 827.7,903.8C829.0,911.9 830.2,922.4 831.5,932.8C832.2,938.8 833.0,943.6 833.7,952.0C834.1,956.2 834.4,964.4 834.8,969.0C836.1,985.4 837.4,995.7 838.7,1007.7C840.0,1019.4 841.2,1030.5 842.5,1040.6C843.8,1051.0 845.1,1061.6 846.4,1069.6C848.0,1079.6 849.7,1087.9 851.3,1094.8C852.9,1101.6 854.5,1107.6 856.1,1112.2C858.0,1117.7 860.0,1122.3 861.9,1125.7C864.2,1129.7 866.4,1133.2 868.7,1135.4C871.9,1138.5 875.1,1140.7 878.3,1142.2C884.1,1144.9 889.9,1146.9 895.7,1148.0C905.4,1149.9 915.1,1150.9 924.8,1151.8C937.7,1153.0 950.6,1153.8 963.5,1154.4C977.7,1155.1 991.8,1155.5 1006.0,1156.1"/>
<path class="l b" d="M91.2,1153.1C127.5,1152.3 163.7,1151.6 200.0,1150.7C233.3,1149.9 266.7,1149.3 300.0,1147.9C312.1,1147.4 324.2,1146.7 336.3,1145.4C344.5,1144.5 352.7,1142.2 360.9,1139.9C365.7,1138.6 370.6,1137.2 375.4,1134.9C379.3,1133.1 383.1,1130.2 387.0,1126.9C389.9,1124.4 392.8,1121.3 395.7,1117.5C398.1,1114.4 400.6,1110.2 403.0,1105.9C404.9,1102.5 406.9,1098.8 408.8,1094.3C410.7,1089.8 412.7,1084.2 414.6,1078.3C416.0,1073.9 417.5,1068.6 418.9,1063.8C420.4,1058.9 421.8,1053.5 423.3,1049.3C424.7,1045.2 426.2,1040.5 427.6,1038.4C429.0,1036.4 430.3,1034.1 431.7,1034.1C433.0,1034.1 434.3,1036.4 435.6,1038.4C437.0,1040.6 438.5,1045.9 439.9,1050.0C441.6,1054.8 443.3,1060.4 445.0,1065.3C446.9,1070.8 448.9,1076.4 450.8,1081.2C452.7,1086.0 454.7,1091.0 456.6,1094.3C458.5,1097.6 460.5,1100.5 462.4,1102.2C464.3,1103.9 466.3,1105.8 468.2,1106.1C470.1,1106.4 472.1,1106.6 474.0,1106.6C475.9,1106.6 477.9,1105.8 479.8,1105.1C482.2,1104.2 484.7,1102.0 487.1,1100.8C489.5,1099.7 491.9,1098.6 494.3,1097.9C496.7,1097.2 499.2,1096.9 501.6,1096.4C504.0,1095.9 506.4,1095.6 508.8,1095.0C511.7,1094.2 514.6,1092.7 517.5,1091.4C519.9,1090.3 522.4,1088.4 524.8,1087.7C527.2,1087.0 529.6,1086.7 532.0,1086.3C534.4,1085.8 536.9,1085.6 539.3,1085.0C542.4,1084.2 545.6,1082.7 548.7,1080.7C551.1,1079.1 553.6,1075.8 556.0,1073.4C558.4,1071.0 560.8,1068.5 563.2,1066.2C565.6,1063.9 568.1,1061.5 570.5,1059.6C571.9,1058.5 573.4,1056.7 574.8,1056.7C576.7,1056.7 578.7,1057.2 580.6,1057.2C582.5,1057.2 584.5,1055.0 586.4,1053.8C587.9,1052.9 589.3,1050.9 590.8,1050.9C592.2,1050.9 593.7,1050.9 595.1,1050.9C596.6,1050.9 598.0,1054.0 599.5,1055.3C600.9,1056.6 602.4,1058.2 603.8,1058.9C605.7,1059.8 607.7,1060.2 609.6,1060.7C611.5,1061.2 613.5,1061.8 615.4,1061.8C617.3,1061.8 619.3,1061.5 621.2,1061.1C623.1,1060.7 625.1,1059.3 627.0,1058.2C628.9,1057.1 630.9,1055.4 632.8,1054.3C634.7,1053.2 636.7,1052.7 638.6,1051.4C640.5,1050.1 642.5,1047.4 644.4,1045.1C646.1,1043.1 647.8,1040.5 649.5,1038.6C650.7,1037.3 651.9,1036.1 653.1,1035.0C654.6,1033.7 656.0,1032.9 657.5,1031.4C658.7,1030.1 659.9,1028.5 661.1,1026.3C662.3,1024.1 663.5,1020.5 664.7,1016.9C665.9,1013.3 667.1,1008.3 668.3,1003.8C669.5,999.1 670.8,994.6 672.0,989.3C673.2,984.1 674.4,977.4 675.6,971.9C676.7,966.7 677.9,962.3 679.0,957.0C681.2,946.8 683.3,935.8 685.5,923.1C687.4,911.8 689.4,898.2 691.3,884.4C693.2,870.6 695.2,855.1 697.1,839.9C698.7,827.3 700.3,814.5 701.9,801.3C703.2,790.6 704.5,778.1 705.8,768.4C707.0,759.7 708.1,750.0 709.3,745.1C710.0,742.0 710.8,739.3 711.5,738.0C712.2,736.8 712.8,735.5 713.5,735.5C714.2,735.5 714.9,736.8 715.6,738.0C716.3,739.3 717.1,742.0 717.8,745.1C719.0,750.0 720.1,759.4 721.3,768.4C722.6,778.1 723.8,790.9 725.1,803.2C726.4,815.9 727.7,829.5 729.0,843.8C730.2,856.6 731.3,870.8 732.5,884.4C733.6,897.2 734.7,910.7 735.8,923.1C736.5,930.6 737.1,937.9 737.8,945.0C738.3,950.7 738.9,957.1 739.4,961.8C740.6,972.3 741.8,980.3 743.0,987.9C744.5,997.2 745.9,1005.6 747.4,1012.5C748.8,1019.2 750.3,1025.3 751.7,1029.9C753.2,1034.6 754.6,1038.7 756.1,1041.5C757.5,1044.3 759.0,1046.9 760.4,1048.0C762.3,1049.5 764.3,1050.2 766.2,1050.9C767.9,1051.5 769.6,1052.4 771.3,1052.4C773.0,1052.4 774.7,1051.6 776.4,1050.8C778.8,1049.7 781.1,1047.1 783.5,1044.5C785.8,1042.0 788.0,1039.2 790.3,1034.8C791.9,1031.7 793.5,1025.4 795.1,1021.3C797.4,1015.6 799.6,1010.8 801.9,1005.8C804.2,1000.8 806.4,994.7 808.7,991.3C810.3,988.9 811.9,987.0 813.5,985.5C814.8,984.3 816.1,982.6 817.4,982.6C818.5,982.6 819.6,984.6 820.7,986.4C822.2,988.8 823.6,995.2 825.1,1000.0C826.7,1005.4 828.4,1010.5 830.0,1017.4C831.3,1022.7 832.5,1029.8 833.8,1036.7C835.1,1043.8 836.4,1052.6 837.7,1059.9C839.3,1068.8 840.9,1077.9 842.5,1085.1C844.1,1092.5 845.8,1099.0 847.4,1104.4C849.3,1110.8 851.3,1116.5 853.2,1120.9C855.5,1126.0 857.7,1130.7 860.0,1133.5C862.9,1137.0 865.8,1139.5 868.7,1141.2C872.6,1143.4 876.4,1144.9 880.3,1146.0C887.4,1148.1 894.5,1149.7 901.6,1150.5C912.5,1151.7 923.5,1152.2 934.4,1152.8C958.3,1154.2 982.1,1155.1 1006.0,1156.3"/>
<rect class="ax" x="91.1" y="727.0" width="236.5" height="95.9" fill="#fff"/>
<path class="l k" d="M109.1,751.2h35.6"/>
<text class="n" x="162.6" y="758.5">around SOH 1.07</text>
<path class="l r" d="M109.1,775.2h35.6"/>
<text class="n" x="162.6" y="782.5">around SOH 0.97</text>
<path class="l b" d="M109.1,799.2h35.6"/>
<text class="n" x="162.6" y="806.5">around SOH 0.87</text>
<text class="s" x="548.6" y="1235.1">(c)</text>
</g>
</svg></body></html>
